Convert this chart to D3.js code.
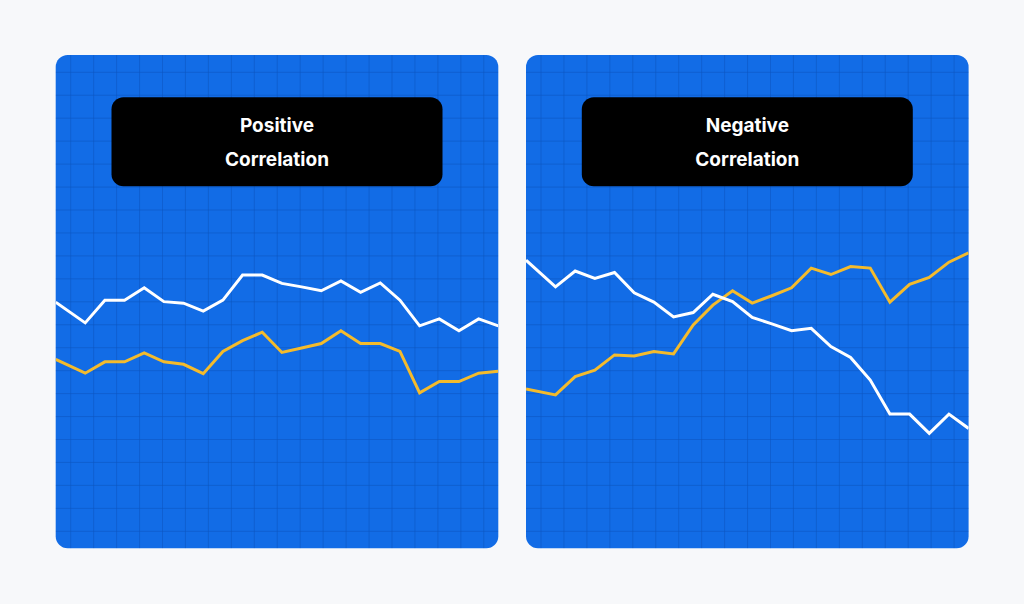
<!DOCTYPE html>
<html>
<head>
<meta charset="utf-8">
<script src="https://cdn.jsdelivr.net/npm/d3@7"></script>
<style>
  html, body { margin: 0; padding: 0; background: #f7f8fa; }
  svg { display: block; }
</style>
</head>
<body>
<div id="chart"></div>
<script>
var svgWidth = 1024
var svgHeight = 604

// shared step positions (first point sits at the left edge)
var steps = [-1.5, 0, 1, 2, 3, 4, 5, 6, 7, 8, 9, 10, 11, 12, 13, 14, 15, 16, 17, 18, 19, 20, 21]

var titles = [["Positive", "Correlation"], ["Negative", "Correlation"]]

var posWhite = [49.9, 45.7, 50.3, 50.3, 52.8, 50.0, 49.7, 48.1, 50.3, 55.4, 55.4, 53.7, 53.0, 52.2, 54.2, 51.9, 53.8, 50.3, 45.1, 46.5, 44.1, 46.5, 45.1]
var posYellow = [38.3, 35.5, 37.8, 37.8, 39.6, 37.8, 37.3, 35.4, 39.9, 42.1, 43.8, 39.7, 40.6, 41.5, 44.1, 41.5, 41.5, 39.9, 31.5, 33.8, 33.8, 35.5, 35.9]

var negWhite = [58.4, 53.0, 56.2, 54.7, 55.9, 51.8, 49.9, 46.9, 47.8, 51.5, 50.0, 46.8, 45.5, 44.1, 44.6, 40.9, 38.7, 34.1, 27.2, 27.2, 23.3, 27.2, 24.3]
var negYellow = [32.3, 31.1, 34.8, 36.1, 39.2, 39.0, 39.9, 39.4, 45.3, 49.3, 52.2, 49.7, 51.2, 52.8, 56.8, 55.5, 57.1, 56.8, 49.9, 53.5, 54.9, 58.0, 59.9]

var panels = [
    { title: titles[0], white: posWhite, yellow: posYellow },
    { title: titles[1], white: negWhite, yellow: negYellow }
]

var panelW = 442.6
var panelH = 493.3
var panelTop = 55
var panelLefts = [55.7, 526]
var gridStep = 22.95

var svg = d3.select("#chart").append("svg").attr("width", svgWidth).attr("height", svgHeight)

svg.append("rect").attr("width", svgWidth).attr("height", svgHeight).attr("fill", "#f7f8fa")

var xScale = d3.scaleLinear().domain([-1.5, 21]).range([0, panelW])
var yScale = d3.scaleLinear().domain([0, 100]).range([panelH, 0])

var line = d3.line().x((d, i) => xScale(steps[i])).y(d => yScale(d))

var defs = svg.append("defs")
defs.append("clipPath").attr("id", "panelClip")
    .append("rect").attr("width", panelW).attr("height", panelH).attr("rx", 12).attr("ry", 12)

panels.forEach(function (p, k) {
    var g = svg.append("g").attr("transform", `translate(${panelLefts[k]}, ${panelTop})`)

    g.append("rect")
        .attr("width", panelW).attr("height", panelH)
        .attr("rx", 12).attr("ry", 12)
        .attr("fill", "#126ce6")

    var grid = g.append("g").attr("clip-path", "url(#panelClip)")
    grid.selectAll(".vline").data(d3.range(15, panelW, gridStep)).enter().append("line")
        .attr("x1", d => d).attr("x2", d => d)
        .attr("y1", 0).attr("y2", panelH)
        .attr("stroke", "#0d56c0").attr("stroke-opacity", 0.55).attr("stroke-width", 1)
    grid.selectAll(".hline").data(d3.range(17.3, panelH, gridStep)).enter().append("line")
        .attr("y1", d => d).attr("y2", d => d)
        .attr("x1", 0).attr("x2", panelW)
        .attr("stroke", "#0d56c0").attr("stroke-opacity", 0.55).attr("stroke-width", 1)

    var lines = g.append("g").attr("clip-path", "url(#panelClip)")
    lines.append("path").datum(p.yellow)
        .attr("d", line).attr("fill", "none")
        .attr("stroke", "#f4bb2c").attr("stroke-width", 3)
        .attr("stroke-linejoin", "miter")
    lines.append("path").datum(p.white)
        .attr("d", line).attr("fill", "none")
        .attr("stroke", "#ffffff").attr("stroke-width", 3)
        .attr("stroke-linejoin", "miter")

    var boxW = 331, boxH = 89
    var box = g.append("g").attr("transform", `translate(${(panelW - boxW) / 2}, 42.3)`)
    box.append("rect")
        .attr("width", boxW).attr("height", boxH)
        .attr("rx", 12).attr("ry", 12)
        .attr("fill", "#000000")
    box.selectAll("text").data(p.title).enter().append("text")
        .attr("x", boxW / 2)
        .attr("y", (d, i) => 27.7 + i * 34)
        .attr("dy", "0.35em")
        .attr("text-anchor", "middle")
        .attr("fill", "#ffffff")
        .attr("font-family", "Inter, 'Noto Sans', sans-serif")
        .attr("font-weight", 700)
        .attr("font-size", "19px")
        .text(d => d)
})
</script>
</body>
</html>
